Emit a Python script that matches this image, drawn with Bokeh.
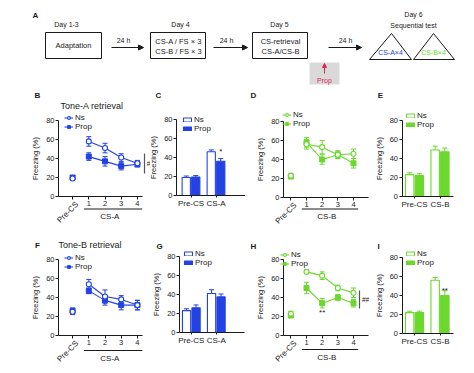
import math
from bokeh.plotting import figure
from bokeh.models import (Range1d, FixedTicker, Label, Whisker, TeeHead,
                          Legend, LegendItem, Arrow, NormalHead, ColumnDataSource)
from bokeh.layouts import column, row
from bokeh.transform import dodge
from bokeh.embed import file_html
from bokeh.resources import INLINE
from bokeh.core.properties import value

FONT = "Liberation Sans"
BLUE = "#2342e4"
GREEN = "#6ad82c"
RED = "#e3245a"
INK = "#1a1a1a"

# ---------------- data ----------------
trials = [1, 2, 3, 4]
trial_ticks = [0, 1, 2, 3, 4]
trial_labels = ["", "1", "2", "3", "4"]
pre_label = "Pre-CS"
series_names = ["Ns", "Prop"]

# B: Tone-A retrieval, CS-A (blue)
b_ns = [58, 51, 41, 35]
b_ns_err = [5, 5, 4, 3]
b_prop = [42, 37, 32, 34]
b_prop_err = [4, 5, 4, 3]
b_pre = [19, 20]
b_pre_err = [2, 2]
# C: bars
c_labels = ["Pre-CS", "CS-A"]
c_ns = [19, 46]
c_ns_err = [1.5, 2]
c_prop = [19.5, 36]
c_prop_err = [1.5, 3]
# D: CS-B (green)
d_ns = [56, 53, 45, 46]
d_ns_err = [5, 7, 4, 5]
d_prop = [58, 40, 45, 36]
d_prop_err = [5, 5, 4, 5]
d_pre = [23, 22]
d_pre_err = [2, 2]
# E: bars
e_labels = ["Pre-CS", "CS-B"]
e_ns = [23, 49]
e_ns_err = [2, 4]
e_prop = [22, 47]
e_prop_err = [2, 4]
# F: Tone-B retrieval, CS-A (blue)
f_ns = [54, 41, 38, 32]
f_ns_err = [5, 7, 4, 5]
f_prop = [47, 37, 32, 32]
f_prop_err = [3, 5, 5, 5]
f_pre = [25, 26]
f_pre_err = [3, 3]
# G: bars
g_labels = ["Pre-CS", "CS-A"]
g_ns = [23, 41]
g_ns_err = [2, 4]
g_prop = [26, 37.5]
g_prop_err = [3, 3]
# H: Tone-B retrieval, CS-B (green)
h_ns = [67, 63, 50, 45]
h_ns_err = [2, 4, 3, 5]
h_prop = [50, 34, 40, 34]
h_prop_err = [6, 5, 3, 4]
h_pre = [23, 21]
h_pre_err = [2, 2]
# I: bars
i_labels = ["Pre-CS", "CS-B"]
i_ns = [22, 56]
i_ns_err = [1.5, 3]
i_prop = [22, 40]
i_prop_err = [1.5, 5]


# ---------------- geometry helpers (page pixels) ----------------
class Geom:
    def __init__(self, fx, fy, w, h, yax_px, y0, ax_px, sx, axis_end, sy=0.95):
        self.fx, self.fy, self.w, self.h = fx, fy, w, h
        self.yax_px, self.y0 = yax_px, y0
        self.ax_px, self.sx, self.sy = ax_px, sx, sy
        self.axis_end = axis_end

    def X(self, px):
        return 1 + (px - self.ax_px) / self.sx

    def Y(self, py):
        return (self.y0 - py) / self.sy


def style_axis(ax):
    ax.axis_line_color = INK
    ax.axis_line_width = 1
    ax.major_tick_line_color = INK
    ax.major_tick_out = 3
    ax.major_tick_in = 0
    ax.minor_tick_out = 0
    ax.minor_tick_in = 0
    ax.major_label_text_font = FONT
    ax.major_label_text_font_size = "7.5px"
    ax.major_label_text_color = INK
    ax.major_label_standoff = 1
    ax.axis_label_text_font = FONT
    ax.axis_label_text_font_size = "7.5px"
    ax.axis_label_text_font_style = "normal"
    ax.axis_label_text_color = INK
    ax.axis_label_standoff = 3


def lab(p, x, y, text, size="7.5px", color=INK, align="center", baseline="middle",
        angle=0.0, bold=False):
    p.add_layout(Label(x=x, y=y, text=text, text_font=FONT, text_font_size=size,
                       text_color=color, text_align=align, text_baseline=baseline,
                       angle=angle, text_font_style="bold" if bold else "normal"))


def make_fig(g):
    p = figure(width=g.w, height=g.h,
               x_range=Range1d(g.X(g.fx), g.X(g.fx + g.w)),
               y_range=Range1d(g.Y(g.fy + g.h), g.Y(g.fy)),
               output_backend="svg", toolbar_location=None, min_border=0)
    p.grid.visible = False
    p.outline_line_color = None
    p.background_fill_color = "white"
    ya = p.yaxis[0]
    ya.fixed_location = g.X(g.yax_px)
    ya.ticker = FixedTicker(ticks=[0, 20, 40, 60, 80])
    ya.bounds = (0, 80)
    ya.axis_label = "Freezing (%)"
    style_axis(ya)
    xa = p.xaxis[0]
    xa.fixed_location = 0
    style_axis(xa)
    xa.bounds = (g.X(g.yax_px), g.X(g.axis_end))
    return p


def whisk(p, xs, ys, errs, color):
    src = ColumnDataSource(dict(x=xs, up=[y + e for y, e in zip(ys, errs)],
                                lo=[y - e for y, e in zip(ys, errs)]))
    p.add_layout(Whisker(source=src, base="x", upper="up", lower="lo",
                         line_color=color, line_width=1,
                         upper_head=TeeHead(size=5, line_color=color, line_width=1),
                         lower_head=TeeHead(size=5, line_color=color, line_width=1)))


def legend(p, g, items, left_px, top_px, glyph_w, glyph_h):
    leg_h = 18
    leg = Legend(items=items,
                 location=(left_px - g.fx, g.fy + g.h - (top_px + leg_h)),
                 margin=0, padding=0, spacing=0,
                 glyph_width=glyph_w, glyph_height=glyph_h, label_height=7, label_standoff=2,
                 label_text_font=FONT, label_text_font_size="8px", label_text_color=INK,
                 border_line_color=None, background_fill_alpha=0)
    p.add_layout(leg)


def line_panel(g, ns, ns_err, prop, prop_err, pre, pre_err, color, group_name,
               group_y_px, leg_pos):
    p = make_fig(g)
    xa = p.xaxis[0]
    xa.ticker = FixedTicker(ticks=trial_ticks)
    xa.major_label_overrides = {t: l for t, l in zip(trial_ticks, trial_labels)}
    # rotated Pre-CS label under its tick
    lab(p, trial_ticks[0] + 4.5 / g.sx, -6.5 / g.sy, pre_label, size="8px",
        align="right", baseline="middle", angle=math.pi / 4)
    # group bracket under trials
    gy = g.Y(group_y_px)
    p.segment(x0=[trials[0] - 0.3], y0=[gy], x1=[trials[-1] + 0.3], y1=[gy],
              line_color=INK, line_width=1)
    lab(p, 2.3, gy - 7.5 / g.sy, group_name, size="8px")

    whisk(p, trials, ns, ns_err, color)
    whisk(p, trials, prop, prop_err, color)
    whisk(p, [0, 0], pre, pre_err, color)
    l1 = p.line(trials, ns, line_color=color, line_width=1.1)
    l2 = p.line(trials, prop, line_color=color, line_width=1.1)
    s2 = p.scatter(trials, prop, marker="square", size=5, fill_color=color, line_color=color)
    s1 = p.scatter(trials, ns, marker="circle", size=5, fill_color="white", line_color=color,
                   line_width=1.1)
    p.scatter([0], [pre[1]], marker="square", size=5, fill_color=color, line_color=color)
    p.scatter([0], [pre[0]], marker="circle", size=5, fill_color="white", line_color=color,
              line_width=1.1)
    legend(p, g, [LegendItem(label=series_names[0], renderers=[l1, s1]),
                  LegendItem(label=series_names[1], renderers=[l2, s2])],
           leg_pos[0], leg_pos[1], 9, 7)
    return p


def bar_panel(g, ns, ns_err, prop, prop_err, labels, color, leg_pos):
    p = make_fig(g)
    xs = [1, 2]
    xa = p.xaxis[0]
    xa.ticker = FixedTicker(ticks=xs)
    xa.major_label_overrides = {x: l for x, l in zip(xs, labels)}
    xa.major_tick_out = 2
    xa.major_label_text_font_size = "8px"
    src = ColumnDataSource(dict(x=xs, ns=ns, prop=prop,
                                ns_up=[v + e for v, e in zip(ns, ns_err)],
                                prop_up=[v + e for v, e in zip(prop, prop_err)]))
    off = 0.19
    for col, up, o in (("ns", "ns_up", -off), ("prop", "prop_up", off)):
        p.add_layout(Whisker(source=src, base=dodge("x", o), upper=up, lower=col,
                             line_color=color, line_width=1, lower_head=None,
                             upper_head=TeeHead(size=5, line_color=color, line_width=1)))
    r1 = p.vbar(x=dodge("x", -off), top="ns", bottom=0, width=0.33, source=src,
                fill_color="white", line_color=color, line_width=1.1)
    r2 = p.vbar(x=dodge("x", off), top="prop", bottom=0, width=0.33, source=src,
                fill_color=color, line_color=color, line_width=1.1)
    legend(p, g, [LegendItem(label=series_names[0], renderers=[r1]),
                  LegendItem(label=series_names[1], renderers=[r2])],
           leg_pos[0], leg_pos[1], 10, 5)
    return p


# ---------------- panel geometry ----------------
gB = Geom(0, 90, 150, 140, 58, 196, 88.3, 16.2, 142)
gC = Geom(150, 90, 95, 140, 176, 195, 190.5, 25, 245)
gD = Geom(245, 90, 125, 140, 283, 197, 306, 15.67, 368)
gE = Geom(370, 90, 104, 140, 401.5, 196, 414, 25.5, 453)
gF = Geom(0, 230, 150, 143, 58, 335, 88.3, 16.2, 142)
gG = Geom(150, 230, 95, 143, 179, 332, 190.8, 25, 244)
gH = Geom(245, 230, 125, 143, 283, 335, 306, 15.67, 368)
gI = Geom(370, 230, 104, 143, 401.5, 333, 414, 25.5, 453)

pB = line_panel(gB, b_ns, b_ns_err, b_prop, b_prop_err, b_pre, b_pre_err, BLUE, "CS-A",
                208.5, (64, 113))
pC = bar_panel(gC, c_ns, c_ns_err, c_prop, c_prop_err, c_labels, BLUE, (182, 115))
pD = line_panel(gD, d_ns, d_ns_err, d_prop, d_prop_err, d_pre, d_pre_err, GREEN, "CS-B",
                208.5, (282, 110))
pE = bar_panel(gE, e_ns, e_ns_err, e_prop, e_prop_err, e_labels, GREEN, (405, 111))
pF = line_panel(gF, f_ns, f_ns_err, f_prop, f_prop_err, f_pre, f_pre_err, BLUE, "CS-A",
                350, (64, 253))
pG = bar_panel(gG, g_ns, g_ns_err, g_prop, g_prop_err, g_labels, BLUE, (183, 249))
pH = line_panel(gH, h_ns, h_ns_err, h_prop, h_prop_err, h_pre, h_pre_err, GREEN, "CS-B",
                349, (280, 250))
pI = bar_panel(gI, i_ns, i_ns_err, i_prop, i_prop_err, i_labels, GREEN, (405, 249))

# titles and panel letters
lab(pB, gB.X(60), gB.Y(105), "Tone-A retrieval", size="9px", align="left")
lab(pF, gF.X(58), gF.Y(244), "Tone-B retrieval", size="9px", align="left")
for p, g, L, (px, py) in ((pB, gB, "B", (37, 95)), (pC, gC, "C", (158, 95)),
                          (pD, gD, "D", (253, 95)), (pE, gE, "E", (380, 95)),
                          (pF, gF, "F", (37, 245)), (pG, gG, "G", (159, 246)),
                          (pH, gH, "H", (253, 246)), (pI, gI, "I", (378, 246))):
    lab(p, g.X(px), g.Y(py), L, size="8px", bold=True)

# significance marks
pB.segment(x0=[gB.X(144)], y0=[gB.Y(153)], x1=[gB.X(144)], y1=[gB.Y(173)],
           line_color="#555555", line_width=1.2)
lab(pB, gB.X(148), gB.Y(163), "#", size="6.5px")
lab(pC, 2.19, gC.Y(151), "*", size="8px")
lab(pH, 2, gH.Y(312), "**", size="8px")
pH.segment(x0=[gH.X(359)], y0=[gH.Y(290)], x1=[gH.X(359)], y1=[gH.Y(308)],
           line_color="#555555", line_width=1.2)
lab(pH, gH.X(365), gH.Y(299), "##", size="6.5px")
lab(pI, 2.19, gI.Y(290), "**", size="8px")

# ---------------- panel A: schematic ----------------
pA = figure(width=474, height=90, x_range=Range1d(0, 474), y_range=Range1d(90, 0),
            output_backend="svg", toolbar_location=None, min_border=0,
            x_axis_location=None, y_axis_location=None)
pA.grid.visible = False
pA.outline_line_color = None


def atext(x, y, t, size="7.5px", color=INK, bold=False, align="center"):
    pA.text(x=[x], y=[y], text=[t], text_font=value(FONT), text_font_size=value(size),
            text_color=color, text_align=align, text_baseline="middle",
            text_font_style="bold" if bold else "normal")


atext(35, 15, "A", size="8px", bold=True)
pA.quad(left=[45, 150, 252], right=[101, 205, 307], top=[32, 32, 32], bottom=[58, 58, 58],
        fill_color=None, line_color=INK, line_width=1)
atext(66, 24, "Day 1-3", size="7px")
atext(180, 24, "Day 4", size="7px")
atext(279, 24, "Day 5", size="7px")
atext(73, 45, "Adaptation")
atext(178, 41, "CS-A / FS × 3")
atext(178, 51, "CS-B / FS × 3")
atext(280, 41, "CS-retrieval")
atext(280, 51, "CS-A/CS-B")
for x0, x1, tx in ((111, 143, 123), (213, 247, 226), (328, 361, 345)):
    pA.add_layout(Arrow(x_start=x0, y_start=47, x_end=x1, y_end=47, line_color=INK, line_width=1,
                        end=NormalHead(size=5, fill_color=INK, line_color=INK)))
    atext(tx, 40, "24 h", size="7px")
pA.quad(left=[309], right=[339], top=[62], bottom=[84], fill_color="#d9d9d9", line_color=None)
pA.add_layout(Arrow(x_start=324, y_start=73, x_end=324, y_end=63, line_color=RED, line_width=1,
                    end=NormalHead(size=4, fill_color=RED, line_color=RED)))
atext(324, 80, "Prop", size="7px", color=RED)
atext(413, 14, "Day 6", size="7px")
atext(413, 25, "Sequential test", size="7px")
pA.patches(xs=[[369, 391, 411], [413, 433, 454]], ys=[[59, 33, 59], [59, 33, 59]],
           fill_color=None, line_color=INK, line_width=1)
atext(390, 52, "CS-A×4", size="7px", color=BLUE)
atext(433, 52, "CS-B×4", size="7px", color=GREEN)

layout = column(pA, row(pB, pC, pD, pE), row(pF, pG, pH, pI))
open("out.html", "w").write(file_html(layout, INLINE))
